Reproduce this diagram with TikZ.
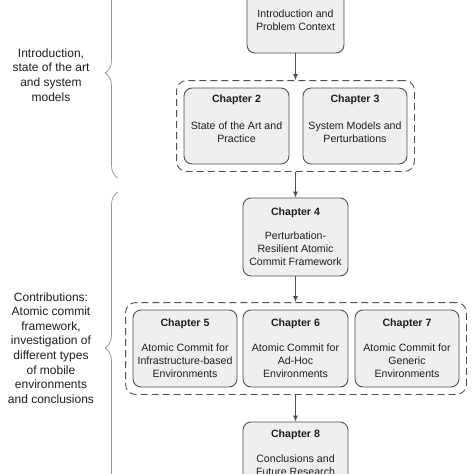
\documentclass[tikz,border=0pt]{standalone}
\usepackage{fontspec}
\setmainfont{Liberation Sans}
\usetikzlibrary{arrows.meta,fit,decorations.pathreplacing}
\definecolor{boxfill}{HTML}{EFEFEF}
\definecolor{boxline}{HTML}{505050}
\definecolor{bracecol}{HTML}{9A9A9A}
\definecolor{txt}{HTML}{1E1E1E}
\begin{document}
\begin{tikzpicture}[x=1pt,y=-1pt,
  chbox/.style={draw=boxline,fill=boxfill,line width=0.9pt,rounded corners=8pt,inner sep=0pt},
  grp/.style={draw=boxline,line width=0.9pt,dash pattern=on 7pt off 4pt,rounded corners=10pt,inner sep=7pt},
  lbl/.style={font=\fontsize{10.6}{13}\selectfont\bfseries,text=txt,anchor=base,inner sep=0pt},
  body/.style={font=\fontsize{10.6}{13}\selectfont,text=txt,align=center,anchor=base,inner sep=0pt},
  side/.style={font=\fontsize{12}{14.6}\selectfont,text=txt,align=center,inner sep=0pt},
  arr/.style={draw=boxline,line width=0.9pt,-{Latex[length=6pt,width=5pt]}},
  brc/.style={draw=bracecol,line width=0.8pt,decorate,decoration={brace,amplitude=13pt}}]
\useasboundingbox (0,0) rectangle (474,474);
\clip (0,0) rectangle (474,474);
\fill[white] (0,0) rectangle (474,474);

% chapter boxes
\node[chbox,minimum width=97pt,minimum height=77pt] (ch1) at (295.5,14.5) {};
\node[chbox,minimum width=105pt,minimum height=76pt] (ch2) at (236.5,126) {};
\node[chbox,minimum width=104pt,minimum height=76pt] (ch3) at (355,126) {};
\node[chbox,minimum width=105pt,minimum height=78pt] (ch4) at (295.5,237) {};
\node[chbox,minimum width=104pt,minimum height=77pt] (ch5) at (185,348.5) {};
\node[chbox,minimum width=105pt,minimum height=77pt] (ch6) at (295.5,348.5) {};
\node[chbox,minimum width=104pt,minimum height=77pt] (ch7) at (407,348.5) {};
\node[chbox,minimum width=105pt,minimum height=78pt] (ch8) at (295.5,461) {};

% texts (base anchor = baseline of last line)
\node[body] (t1) at (295.5,30.8) {Introduction and\\Problem Context};
\node[lbl] (l2) at (236.5,102.8) {Chapter 2};
\node[body] (t2) at (236.5,142.8) {State of the Art and\\Practice};
\node[lbl] (l3) at (355,102.8) {Chapter 3};
\node[body] (t3) at (355,142.8) {System Models and\\Perturbations};
\node[lbl] (l4) at (295.5,215.8) {Chapter 4};
\node[body] (t4) at (295.5,265.8) {Perturbation-\\Resilient Atomic\\Commit Framework};
\node[lbl] (l5) at (185,326.8) {Chapter 5};
\node[body] (t5) at (185,377.8) {Atomic Commit for\\Infrastructure-based\\Environments};
\node[lbl] (l6) at (295.5,326.8) {Chapter 6};
\node[body] (t6) at (295.5,377.8) {Atomic Commit for\\Ad-Hoc\\Environments};
\node[lbl] (l7) at (407,326.8) {Chapter 7};
\node[body] (t7) at (407,377.8) {Atomic Commit for\\Generic\\Environments};
\node[lbl] (l8) at (295.5,437.8) {Chapter 8};
\node[body] (t8) at (295.5,475.8) {Conclusions and\\Future Research};

% groups
\node[grp,fit=(ch2)(ch3)] (g1) {};
\node[grp,fit=(ch5)(ch7)] (g2) {};

% arrows
\draw[arr] (ch1.south) -- (ch1.south |- g1.north);
\draw[arr] (g1.south -| ch4.north) -- (ch4.north);
\draw[arr] (ch4.south) -- (ch4.south |- g2.north);
\draw[arr] (g2.south -| ch8.north) -- (ch8.north);

% braces
\coordinate (b1top) at (118,-32);
\coordinate (b1bot) at (118,178);
\coordinate (b2top) at (118,192);
\coordinate (b2bot) at (118,504);
\draw[brc] (b1bot) -- (b1top);
\draw[brc] (b2bot) -- (b2top);

% side texts
\node[side] (s1) at (51,75) {Introduction,\\state of the art\\and system\\models};
\node[side] (s2) at (51,348) {Contributions:\\Atomic commit\\framework,\\investigation of\\different types\\of mobile\\environments\\and conclusions};
\end{tikzpicture}
\end{document}
